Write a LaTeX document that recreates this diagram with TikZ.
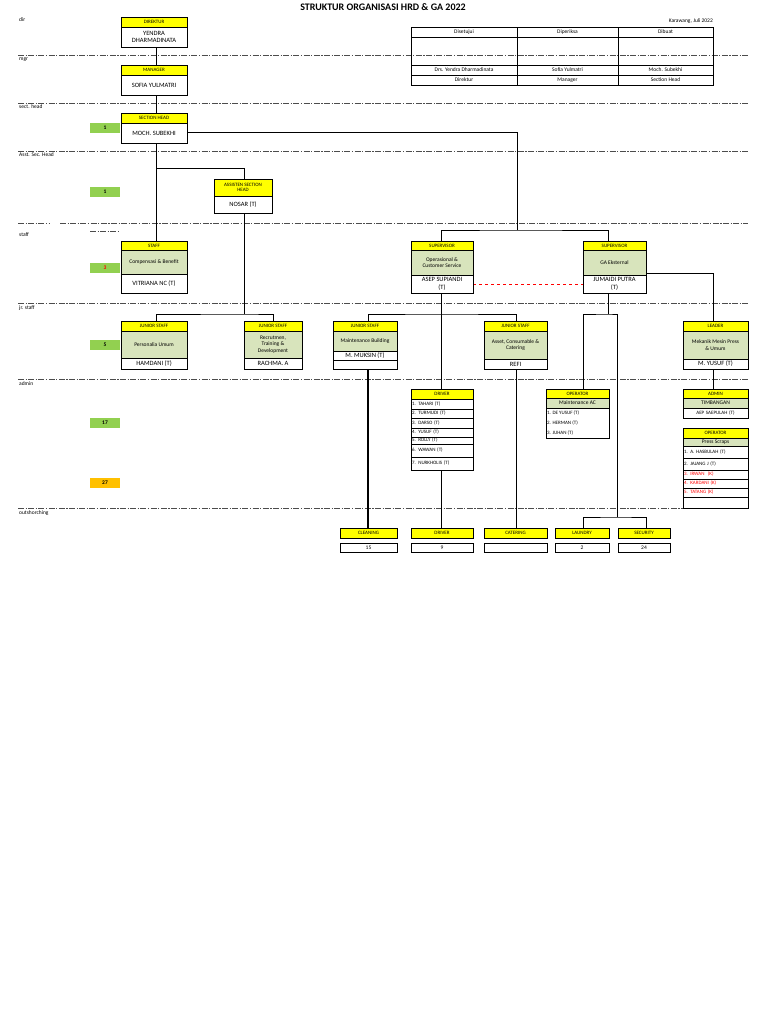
\documentclass[tikz,border=0pt]{standalone}
\usepackage{fontspec}
\setmainfont{Carlito}
\definecolor{yel}{RGB}{255,255,0}
\definecolor{grn}{RGB}{216,228,188}
\definecolor{cnt}{RGB}{146,208,80}
\definecolor{org}{RGB}{255,192,0}
\tikzset{
 base/.style={draw,line width=0.8pt,inner sep=0pt,align=center},
 hd/.style={base,fill=yel,font=\fontsize{5}{5.5}\selectfont},
 gr/.style={base,fill=grn,font=\fontsize{5.5}{6.5}\selectfont},
 nm/.style={base,fill=white,font=\fontsize{6.5}{7.5}\selectfont},
 rw/.style={base,fill=white,font=\fontsize{5}{6}\selectfont,align=left,text width={#1},inner xsep=1pt},
 cb/.style={fill=cnt,font=\fontsize{5.5}{6}\selectfont\bfseries,inner sep=0pt},
 tb/.style={draw,line width=0.6pt,inner sep=0pt,font=\fontsize{5.5}{6}\selectfont},
 lvl/.style={anchor=west,font=\fontsize{5.5}{6}\selectfont,inner sep=0pt},
 ddl/.style={gray!60!black,line width=0.7pt,dash pattern=on 6pt off 1.5pt on 1.2pt off 1.5pt},
 ln/.style={line width=0.8pt}
}
\newcommand\bx[7]{\node[#2,minimum width={#5-#3},minimum height={#6-#4}] (#1) at ({(#3+#5)/2},{(#4+#6)/2}) {#7};}
\begin{document}
\begin{tikzpicture}[x=1pt,y=-1pt]
\useasboundingbox (0,0) rectangle (768,1024);
\fill[white] (0,0) rectangle (768,1024);
\node[font=\fontsize{10}{11}\selectfont\bfseries] (title) at (383,7) {STRUKTUR ORGANISASI HRD \& GA 2022};
% level lines
\foreach \yy in {55,103,151,303,379,508} \draw[ddl] (18,\yy) -- (748,\yy);
\draw[ddl] (18,223) -- (50,223); \draw[ddl] (60,223) -- (748,223);
\draw[ddl] (90,231) -- (120,231);
\node[lvl] (l1) at (19,20) {dir};
\node[lvl] (l2) at (19,60) {mgr};
\node[lvl] (l3) at (19,107) {sect. head};
\node[lvl] (l4) at (19,155) {Asst. Sec. Head};
\node[lvl] (l5) at (19,235) {staff};
\node[lvl] (l6) at (19,308) {jr. staff};
\node[lvl] (l7) at (19,384) {admin};
\node[lvl] (l8) at (19,513) {outshorching};
% counts
\bx{c1}{cb}{90}{123}{120}{133}{1}
\bx{c2}{cb}{90}{187}{120}{197}{1}
\bx{c3}{cb}{90}{263}{120}{273}{\textcolor{red}{3}}
\bx{c4}{cb}{90}{340}{120}{350}{5}
\bx{c5}{cb}{90}{418}{120}{428}{17}
\node[cb,fill=org,minimum width=30,minimum height=10] (c6) at (105,483) {27};
% approval table
\node[font=\fontsize{5.5}{6}\selectfont,anchor=east,inner sep=0pt] (kar) at (713,21) {Karawang, Juli 2022};
\bx{t1}{tb}{411}{27}{517}{37}{Disetujui}
\bx{t2}{tb}{517}{27}{618}{37}{Diperiksa}
\bx{t3}{tb}{618}{27}{713}{37}{Dibuat}
\bx{t4}{tb}{411}{37}{517}{65}{}
\bx{t5}{tb}{517}{37}{618}{65}{}
\bx{t6}{tb}{618}{37}{713}{65}{}
\bx{t7}{tb}{411}{65}{517}{75}{Drs. Yendra Dharmadinata}
\bx{t8}{tb}{517}{65}{618}{75}{Sofia Yulmatri}
\bx{t9}{tb}{618}{65}{713}{75}{Moch. Subekhi}
\bx{t10}{tb}{411}{75}{517}{85}{Direktur}
\bx{t11}{tb}{517}{75}{618}{85}{Manager}
\bx{t12}{tb}{618}{75}{713}{85}{Section Head}
% connectors (drawn first)
\coordinate (j1) at (517,230);
\coordinate (j2) at (156,168);
\coordinate (j3) at (244,314);
\coordinate (j4) at (441,314);
\coordinate (j5) at (608,314);
\coordinate (j6) at (617,517);
\draw[ln] (156,47) -- (156,241);
\draw[ln] (187,132) -| (j1);
\draw[ln] (441,241) |- (j1) -| (608,241);
\draw[ln] (j2) -| (244,179);
\draw[ln] (244,213) -- (j3);
\draw[ln] (156,321) |- (j3) -| (273,321);
\draw[ln] (368,321) |- (j4) -| (516,321);
\draw[ln] (441,293) -- (441,528);
\draw[ln] (608,293) -- (j5);
\draw[ln] (583,389) |- (j5) -| (j6);
\draw[ln] (583,528) |- (j6) -| (646,528);
\draw[ln] (646,273) -| (713,321);
\draw[ln] (713,369) -- (713,389);
\draw[line width=1.4pt] (368,369) -- (368,528);
\draw[ln] (516,369) -- (516,528);
\draw[red,dashed,line width=0.6pt] (473,284) -- (583,284);
% boxes
\bx{dirh}{hd}{121}{17}{187}{27}{DIREKTUR}
\bx{dirb}{nm}{121}{27}{187}{47}{YENDRA\\DHARMADINATA}
\bx{mgrh}{hd}{121}{65}{187}{75}{MANAGER}
\bx{mgrb}{nm}{121}{75}{187}{95}{SOFIA YULMATRI}
\bx{shh}{hd}{121}{113}{187}{123}{SECTION HEAD}
\bx{shb}{nm}{121}{123}{187}{143}{MOCH. SUBEKHI}
\bx{ash}{hd}{214}{179}{272}{196}{ASSISTEN SECTION\\HEAD}
\bx{asb}{nm}{214}{196}{272}{213}{NOSAR (T)}
\bx{sth}{hd}{121}{241}{187}{250}{STAFF}
\bx{stg}{gr}{121}{250}{187}{274}{Compensasi \& Benefit}
\bx{stb}{nm}{121}{274}{187}{293}{VITRIANA NC (T)}
\bx{s1h}{hd}{411}{241}{473}{250}{SUPERVISOR}
\bx{s1g}{gr}{411}{250}{473}{275}{Operasional \&\\Customer Service}
\bx{s1b}{nm}{411}{275}{473}{293}{ASEP SUPIANDI\\(T)}
\bx{s2h}{hd}{583}{241}{646}{250}{SUPERVISOR}
\bx{s2g}{gr}{583}{250}{646}{275}{GA Eksternal}
\bx{s2b}{nm}{583}{275}{646}{293}{JUMAIDI PUTRA\\(T)}
\bx{j1h}{hd}{121}{321}{187}{331}{JUNIOR STAFF}
\bx{j1g}{gr}{121}{331}{187}{358}{Personalia Umum}
\bx{j1b}{nm}{121}{358}{187}{369}{HAMDANI (T)}
\bx{j2h}{hd}{244}{321}{302}{331}{JUNIOR STAFF}
\bx{j2g}{gr}{244}{331}{302}{358}{Recrutmen,\\Training \&\\Development}
\bx{j2b}{nm}{244}{358}{302}{369}{RACHMA. A}
\bx{j3h}{hd}{333}{321}{397}{331}{JUNIOR STAFF}
\bx{j3g}{gr}{333}{331}{397}{351}{Maintenance Building}
\bx{j3b}{nm}{333}{351}{397}{360}{M. MUKSIN (T)}
\bx{j3e}{nm}{333}{360}{397}{369}{}
\bx{j4h}{hd}{484}{321}{547}{331}{JUNIOR STAFF}
\bx{j4g}{gr}{484}{331}{547}{359}{Asset, Consumable \&\\Catering}
\bx{j4b}{nm}{484}{359}{547}{369}{REFI}
\bx{ldh}{hd}{683}{321}{748}{331}{LEADER}
\bx{ldg}{gr}{683}{331}{748}{359}{Mekanik Mesin Press\\\& Umum}
\bx{ldb}{nm}{683}{359}{748}{369}{M. YUSUF (T)}
\bx{dvh}{hd}{411}{389}{473}{399}{DRIVER}
\bx{dv1}{rw=60}{411}{399}{473}{409}{1. TAHARI (T)}
\bx{dv2}{rw=60}{411}{409}{473}{418}{2. TURMUDI (T)}
\bx{dv3}{rw=60}{411}{418}{473}{428}{3. DARSO (T)}
\bx{dv4}{rw=60}{411}{428}{473}{437}{4. YUSUF (T)}
\bx{dv5}{rw=60}{411}{437}{473}{444}{5. ROLLY (T)}
\bx{dv6}{rw=60}{411}{444}{473}{457}{6. WAWAN (T)}
\bx{dv7}{rw=60}{411}{457}{473}{470}{7. NURKHOLIS (T)}
\bx{oah}{hd}{546}{389}{609}{398}{OPERATOR}
\bx{oag}{gr}{546}{398}{609}{408}{Maintenance AC}
\bx{oab}{base,fill=white}{546}{408}{609}{438}{}
\node[font=\fontsize{5}{6}\selectfont,anchor=west,inner sep=0pt] (oa1) at (547,413) {1. DE YUSUF (T)};
\node[font=\fontsize{5}{6}\selectfont,anchor=west,inner sep=0pt] (oa2) at (547,423) {2. HERMAN (T)};
\node[font=\fontsize{5}{6}\selectfont,anchor=west,inner sep=0pt] (oa3) at (547,433) {3. JUHAN (T)};
\bx{adh}{hd}{683}{389}{748}{398}{ADMIN}
\bx{adg}{gr}{683}{398}{748}{408}{TIMBANGAN}
\bx{adb}{rw=63,align=center}{683}{408}{748}{418}{AEP SAEPULAH (T)}
\bx{oph}{hd}{683}{428}{748}{438}{OPERATOR}
\bx{opg}{gr}{683}{438}{748}{446}{Press Scraps}
\bx{op1}{rw=63}{683}{446}{748}{458}{1. A. HASBULAH (T)}
\bx{op2}{rw=63}{683}{458}{748}{470}{2. JAJANG J (T)}
\bx{op3}{rw=63,text=red}{683}{470}{748}{479}{3. IRWAN\ \ (K)}
\bx{op4}{rw=63,text=red}{683}{479}{748}{488}{4. KARDANI (K)}
\bx{op5}{rw=63,text=red}{683}{488}{748}{497}{5. TATANG (K)}
\bx{op6}{rw=63}{683}{497}{748}{508}{}
% outsourcing
\bx{o1}{hd}{340}{528}{397}{538}{CLEANING}
\bx{o2}{hd}{411}{528}{473}{538}{DRIVER}
\bx{o3}{hd}{484}{528}{547}{538}{CATERING}
\bx{o4}{hd}{555}{528}{609}{538}{LAUNDRY}
\bx{o5}{hd}{618}{528}{670}{538}{SECURITY}
\bx{n1}{tb}{340}{543}{397}{552}{15}
\bx{n2}{tb}{411}{543}{473}{552}{9}
\bx{n3}{tb}{484}{543}{547}{552}{}
\bx{n4}{tb}{555}{543}{609}{552}{2}
\bx{n5}{tb}{618}{543}{670}{552}{24}
\end{tikzpicture}
\end{document}
